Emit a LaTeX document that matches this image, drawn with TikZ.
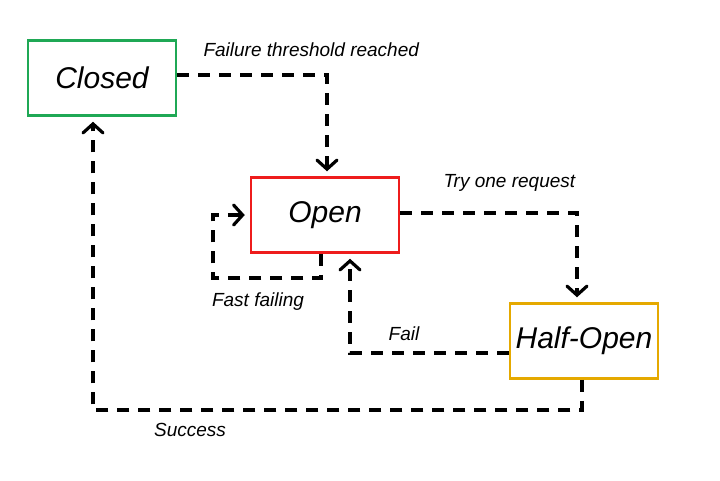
\documentclass[tikz,border=0pt]{standalone}
\usepackage{fontspec}
\setmainfont{Liberation Sans}
\usetikzlibrary{arrows.meta}
\begin{document}
\begin{tikzpicture}[x=1pt,y=-1pt,
  box/.style={draw,line width=2.5pt,minimum width=148pt,minimum height=75pt,inner sep=0pt,font=\itshape\fontsize{30}{30}\selectfont},
  conn/.style={line width=3.2pt,dash pattern=on 12pt off 9pt,-{Straight Barb[length=9pt,width=20pt,line cap=round]}},
  lbl/.style={font=\itshape\fontsize{19}{19}\selectfont}]
\useasboundingbox (0,0) rectangle (720,480);
\definecolor{cgreen}{HTML}{1FA855}
\definecolor{cred}{HTML}{EE1C1C}
\definecolor{cgold}{HTML}{E5A900}
\node[box,draw=cgreen] (closed) at (102,78) {Closed};
\node[box,draw=cred] (open) at (325,215) {Open};
\node[box,draw=cgold] (half) at (584,341) {Half-Open};
\coordinate (c1) at (327,75);
\coordinate (o1) at (577,213);
\coordinate (f1) at (321,278);
\coordinate (f2) at (213,278);
\coordinate (f3) at (213,215);
\coordinate (h1) at (350,353);
\coordinate (s1) at (582,410);
\coordinate (s2) at (93,410);
\draw[conn] (closed.east |- c1) -- (c1) -- ([yshift=5pt]c1 |- open.north);
\draw[conn] (open.east |- o1) -- (o1) -- ([yshift=5pt]o1 |- half.north);
\draw[conn] (open.south -| f1) -- (f1) -- (f2) -- (f3) -- ([xshift=-5pt]open.west |- f3);
\draw[conn] (half.west |- h1) -- (h1) -- ([yshift=-5pt]h1 |- open.south);
\draw[conn] (half.south -| s1) -- (s1) -- (s2) -- ([yshift=-5pt]s2 |- closed.south);
\node[lbl,anchor=west] (t1) at (200,50) {Failure threshold reached};
\node[lbl,anchor=west] (t2) at (440,183) {Try one request};
\node[lbl] (t3) at (258,302) {Fast failing};
\node[lbl] (t4) at (404,334) {Fail};
\node[lbl] (t5) at (190,430) {Success};
\end{tikzpicture}
\end{document}
